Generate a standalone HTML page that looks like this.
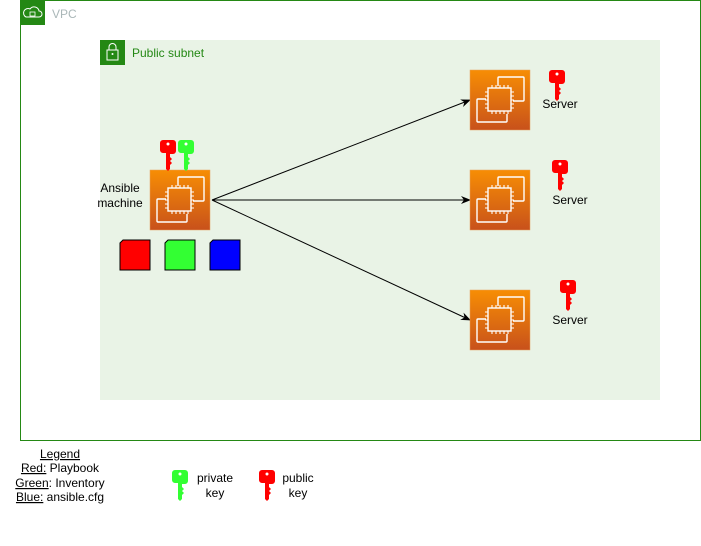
<!DOCTYPE html>
<html><head><style>
body{margin:0;background:#fff;width:701px;height:541px;overflow:hidden;font-family:"Liberation Sans",Arial,sans-serif;}
</style></head><body>
<svg width="701" height="541" viewBox="0 0 701 541" xmlns="http://www.w3.org/2000/svg" font-family="Liberation Sans, Arial, sans-serif">
<defs>
<linearGradient id="og" x1="0" y1="1" x2="0" y2="0">
<stop offset="0" stop-color="#C8511B"/><stop offset="1" stop-color="#F78E04"/></linearGradient>
<g id="ec2">
<rect x="0" y="0" width="60" height="60" fill="url(#og)" stroke="#e8a060" stroke-width="0.5"/>
<path d="M28 16 v-8 a1 1 0 0 1 1-1 h24 a1 1 0 0 1 1 1 v22 a1 1 0 0 1-1 1 h-10 M16 29 h-8 a1 1 0 0 0-1 1 v21 a1 1 0 0 0 1 1 h28 a1 1 0 0 0 1-1 v-7" fill="none" stroke="#fff" stroke-width="1.4"/>
<rect x="18" y="18" width="23" height="23" fill="none" stroke="#fff" stroke-width="1.4"/>
<path d="M22 18v-3M26 18v-3M30 18v-3M34 18v-3M38 18v-3M22 41v3M26 41v3M30 41v3M34 41v3M38 41v3M18 22h-3M18 26h-3M18 30h-3M18 34h-3M18 38h-3M41 22h3M41 26h3M41 30h3M41 34h3M41 38h3" stroke="#fff" stroke-width="1.1"/>
</g>
<g id="key">
<path d="M0 3 a3 3 0 0 1 3-3 h10 a3 3 0 0 1 3 3 v8 a3 3 0 0 1-3 3 h-3 v3 l2 2 -2 2 2 2 -2 2 v4 l-2 2 -2-2 v-16 h-3 a3 3 0 0 1-3-3z"/>
<circle cx="8" cy="4" r="1.5" fill="#fff"/>
</g>
<marker id="ar" markerWidth="10" markerHeight="10" refX="9" refY="5" orient="auto" markerUnits="userSpaceOnUse">
<path d="M0 1 L10 5 L0 9 L3 5z" fill="#000"/></marker>
</defs>
<rect x="20.5" y="0.5" width="680" height="440" fill="#fff" stroke="#248814"/>
<rect x="20" y="0" width="25" height="25" fill="#248814"/>
<path d="M26 17 h13 a3 3 0 0 0 0-6 a5 5 0 0 0-9-2 a3 3 0 0 0-4 8z" fill="none" stroke="#fff" stroke-width="1"/>
<rect x="30" y="12" width="5" height="4" fill="none" stroke="#fff" stroke-width="0.8"/>
<text x="52" y="18" font-size="12" fill="#aab7b8">VPC</text>
<rect x="100" y="40" width="560" height="360" fill="#e9f3e6"/>
<rect x="100" y="40" width="25" height="25" fill="#248814"/>
<rect x="107" y="50" width="11" height="10" fill="none" stroke="#fff" stroke-width="1"/>
<path d="M109 50 v-3 a3.5 3.5 0 0 1 7 0 v3" fill="none" stroke="#fff" stroke-width="1"/>
<circle cx="112.5" cy="54" r="1" fill="#fff"/>
<text x="132" y="57" font-size="12" fill="#248814">Public subnet</text>

<line x1="212" y1="200" x2="470" y2="100" stroke="#000" marker-end="url(#ar)"/>
<line x1="212" y1="200" x2="470" y2="200" stroke="#000" marker-end="url(#ar)"/>
<line x1="212" y1="200" x2="470" y2="320" stroke="#000" marker-end="url(#ar)"/>

<use href="#ec2" x="150" y="170"/>
<use href="#ec2" x="470" y="70"/>
<use href="#ec2" x="470" y="170"/>
<use href="#ec2" x="470" y="290"/>

<use href="#key" x="160" y="140" fill="#f00"/>
<use href="#key" x="178" y="140" fill="#3f3"/>
<use href="#key" x="549" y="70" fill="#f00"/>
<use href="#key" x="552" y="160" fill="#f00"/>
<use href="#key" x="560" y="280" fill="#f00"/>
<use href="#key" x="172" y="470" fill="#3f3"/>
<use href="#key" x="259" y="470" fill="#f00"/>

<text x="120" y="192" font-size="12" text-anchor="middle">Ansible</text>
<text x="120" y="207" font-size="12" text-anchor="middle">machine</text>
<text x="560" y="108" font-size="12" text-anchor="middle">Server</text>
<text x="570" y="204" font-size="12" text-anchor="middle">Server</text>
<text x="570" y="324" font-size="12" text-anchor="middle">Server</text>

<path d="M123 240 h27 v30 h-30 v-27z" fill="#f00" stroke="#000"/>
<path d="M168 240 h27 v30 h-30 v-27z" fill="#3f3" stroke="#000"/>
<path d="M213 240 h27 v30 h-30 v-27z" fill="#00f" stroke="#000"/>

<g font-size="12" text-anchor="middle">
<text x="60" y="458" text-decoration="underline">Legend</text>
<text x="60" y="472"><tspan text-decoration="underline">Red:</tspan> Playbook</text>
<text x="60" y="487"><tspan text-decoration="underline">Green</tspan>: Inventory</text>
<text x="60" y="501"><tspan text-decoration="underline">Blue:</tspan> ansible.cfg</text>
<text x="215" y="482">private</text>
<text x="215" y="497">key</text>
<text x="298" y="482">public</text>
<text x="298" y="497">key</text>
</g>
</svg>
</body></html>
